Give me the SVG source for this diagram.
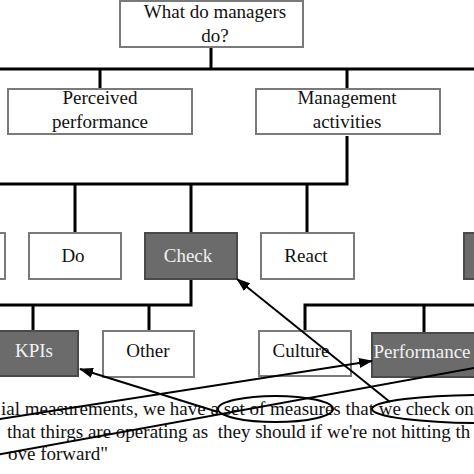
<svg xmlns="http://www.w3.org/2000/svg" width="474" height="474" viewBox="0 0 474 474">
<defs>
<style>
text{font-family:"Liberation Serif","Times New Roman",serif;font-size:19px;fill:#111;}
.c{text-anchor:middle;}
.w{fill:#f2f2f2;}
.box{fill:#fff;stroke:#7a7a7a;stroke-width:2;}
.dark{fill:#6b6b6b;stroke:#4a4a4a;stroke-width:2;}
.conn{stroke:#000;stroke-width:3;fill:none;}
.arr{stroke:#000;stroke-width:2;fill:none;}
.ell{stroke:#000;stroke-width:2;fill:none;}
.q{white-space:pre;}
</style>
<marker id="ah" markerUnits="userSpaceOnUse" markerWidth="14" markerHeight="10" refX="13" refY="5" orient="auto">
<path d="M0,0 L14,5 L0,10 z" fill="#000"/>
</marker>
</defs>
<rect width="474" height="474" fill="#fff"/>

<g id="connectors">
<path class="conn" d="M211,47 V69 M0,69 H474 M100,69 V89 M347,69 V89"/>
<path class="conn" d="M347,136 V184 H0 M75,184 V233 M191,184 V233 M307,184 V233"/>
<path class="conn" d="M191,279 V305 H0 M33,305 V331 M149,305 V331"/>
<path class="conn" d="M474,305 H305 V331 M424,305 V333"/>
</g>

<g id="n-top">
<rect class="box" x="120" y="1" width="183" height="46"/>
<text class="c" x="215" y="18">What do managers</text>
<text class="c" x="215" y="42">do?</text>
</g>
<g id="n-perceived">
<rect class="box" x="8" y="89" width="184" height="45"/>
<text class="c" x="100" y="104">Perceived</text>
<text class="c" x="100" y="128">performance</text>
</g>
<g id="n-management">
<rect class="box" x="256" y="89" width="184" height="45"/>
<text class="c" x="347" y="104">Management</text>
<text class="c" x="347" y="128">activities</text>
</g>
<g id="n-left-partial">
<rect class="box" x="-90" y="233" width="95" height="46"/>
</g>
<g id="n-do">
<rect class="box" x="29" y="233" width="92" height="46"/>
<text class="c" x="73" y="262">Do</text>
</g>
<g id="n-check">
<rect class="dark" x="145" y="233" width="92" height="46"/>
<text class="c w" x="188" y="262">Check</text>
</g>
<g id="n-react">
<rect class="box" x="261" y="233" width="93" height="46"/>
<text class="c" x="306" y="262">React</text>
</g>
<g id="n-right-partial">
<rect class="dark" x="464" y="233" width="40" height="46"/>
</g>
<g id="n-kpis">
<rect class="dark" x="-13" y="331" width="91" height="45"/>
<text class="c w" x="34" y="357">KPIs</text>
</g>
<g id="n-other">
<rect class="box" x="103" y="331" width="91" height="46"/>
<text class="c" x="148" y="357">Other</text>
</g>
<g id="n-culture">
<rect class="box" x="259" y="331" width="92" height="45"/>
<text class="c" x="301" y="357">Culture</text>
</g>
<g id="n-performance">
<rect class="dark" x="372" y="333" width="106" height="44"/>
<text class="c w" x="422" y="358">Performance</text>
</g>

<g id="quote">
<text class="q" x="1" y="415">ial measurements, we have a set of measures that we check on</text>
<text class="q" x="7" y="438">that thirgs are operating as  they should if we're not hitting th</text>
<text class="q" x="8" y="460">ove forward"</text>
</g>

<g id="annotations">
<line class="arr" x1="218" y1="412" x2="80" y2="369" marker-end="url(#ah)"/>
<line class="arr" x1="-20" y1="422" x2="372" y2="361" marker-end="url(#ah)"/>
<line class="arr" x1="-10" y1="456" x2="480" y2="367"/>
<line class="arr" x1="390" y1="402" x2="237" y2="279" marker-end="url(#ah)"/>
<ellipse class="ell" cx="275.5" cy="409" rx="57.5" ry="13"/>
<ellipse class="ell" cx="484" cy="409" rx="112" ry="14"/>
</g>
</svg>
